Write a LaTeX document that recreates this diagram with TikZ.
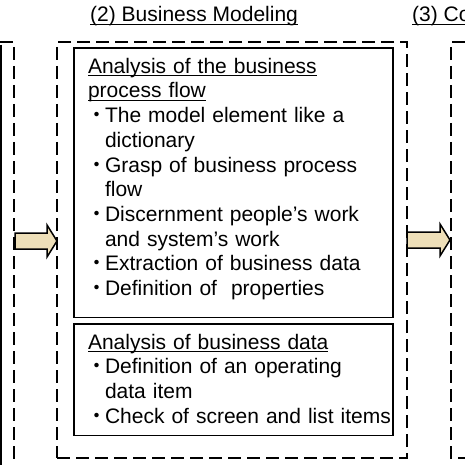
\documentclass[tikz,border=0pt]{standalone}
\usepackage{fontspec}
\setmainfont{Liberation Sans}
\newfontfamily\cjk{Noto Sans CJK JP}
\usetikzlibrary{calc}
\definecolor{arrowtan}{HTML}{EEDFB8}
\newcommand{\uln}[1]{\leavevmode\setbox0\hbox{#1}\rlap{\rule[-2.8pt]{\wd0}{1.1pt}}\box0}
\newcommand{\bul}{\makebox[17pt][c]{\cjk ・}}
\newcommand{\cont}{\hspace*{17pt}}
\newcommand{\blockarrow}[2]{%
  \draw[blockarr] ($(#1)+(0,-8)$) -- ($(#2)+(-10,-8)$) -- ($(#2)+(-10,-16)$) -- (#2)
    -- ($(#2)+(-10,16)$) -- ($(#2)+(-10,8)$) -- ($(#1)+(0,8)$) -- cycle;}
\tikzset{
  panelbox/.style={draw,line width=2pt,dash pattern=on 13pt off 6pt},
  listbox/.style={draw,line width=1.6pt,anchor=north west,outer sep=0pt,align=left,
    inner xsep=14pt,inner ysep=10pt,text width=291pt,font=\fontsize{21}{24.7}\selectfont},
  titletext/.style={anchor=base west,inner sep=0pt,font=\fontsize{21}{24.7}\selectfont},
  blockarr/.style={draw,fill=arrowtan,line width=1.5pt,line join=miter},
}
\begin{document}
\begin{tikzpicture}[x=1pt,y=-1pt]
  \useasboundingbox (0,0) rectangle (465,465);
  % panel titles
  \node[titletext] (t2) at (90,22) {\uln{(2) Business Modeling}};
  \node[titletext] (t3) at (412,22) {\uln{(3) Co}};
  % neighbouring panels (cut off)
  \draw[panelbox] (0,42) -- (14,42) -- (14,465);
  \draw[line width=1.6pt] (1,45) -- (1,465);
  \draw[panelbox] (465,42) -- (451,42) -- (451,458) -- (465,458);
  % business modeling panel
  \node[panelbox,minimum width=350pt,minimum height=416pt,anchor=north west,inner sep=0pt,outer sep=0pt] (model) at (57,42) {};
  \node[listbox] (flowbox) at (74,48) {\uln{Analysis of the business}\\
    \uln{process flow}\\
    \bul The model element like a\\
    \cont dictionary\\
    \bul Grasp of business process\\
    \cont flow\\
    \bul Discernment people’s work\\
    \cont and system’s work\\
    \bul Extraction of business data\\
    \bul Definition of~ properties\rule[-12pt]{0pt}{12pt}};
  \node[listbox] (databox) at (74,324) {\uln{Analysis of business data}\\
    \bul Definition of an operating\\
    \cont data item\\
    \makebox[\linewidth][l]{\bul Check of screen and list items}\rule[-2pt]{0pt}{2pt}};
  % arrows between panels
  \coordinate (p1e) at (15,241);
  \coordinate (p3w) at (450,240);
  \coordinate (a1) at (p1e -| model.west);
  \coordinate (a2) at (p3w -| model.east);
  \blockarrow{p1e}{a1}
  \blockarrow{a2}{p3w}
\end{tikzpicture}
\end{document}
